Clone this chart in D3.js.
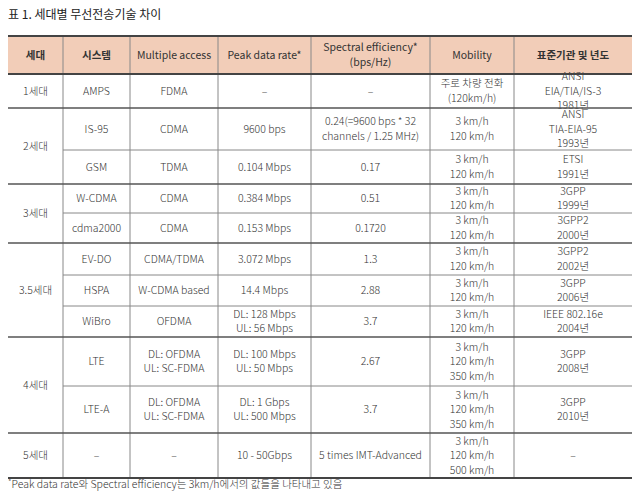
<!DOCTYPE html><html><head><meta charset="utf-8"><script src="https://cdn.jsdelivr.net/npm/d3@7"></script>
<style>body{margin:0;background:#fff}</style></head><body><svg id="c" width="640" height="494"></svg><script>
const colEdges=[8,63,130,218,311,430,514,632];
const headers=[["세대"],["시스템"],["Multiple access"],["Peak data rate*"],["Spectral efficiency*","(bps/Hz)"],["Mobility"],["표준기관 및 년도"]];
const generations=[{name:"1세대",rows:1},{name:"2세대",rows:2},{name:"3세대",rows:2},{name:"3.5세대",rows:3},{name:"4세대",rows:2},{name:"5세대",rows:1}];
const rowEdges=[74,108,150,184,213,243,275,306,337,386,433,478];
const rows=[
[["AMPS"],["FDMA"],["–"],["–"],["주로 차량 전화","(120km/h)"],["ANSI","EIA/TIA/IS-3","1981년"]],
[["IS-95"],["CDMA"],["9600 bps"],["0.24(=9600 bps * 32","channels / 1.25 MHz)"],["3 km/h","120 km/h"],["ANSI","TIA-EIA-95","1993년"]],
[["GSM"],["TDMA"],["0.104 Mbps"],["0.17"],["3 km/h","120 km/h"],["ETSI","1991년"]],
[["W-CDMA"],["CDMA"],["0.384 Mbps"],["0.51"],["3 km/h","120 km/h"],["3GPP","1999년"]],
[["cdma2000"],["CDMA"],["0.153 Mbps"],["0.1720"],["3 km/h","120 km/h"],["3GPP2","2000년"]],
[["EV-DO"],["CDMA/TDMA"],["3.072 Mbps"],["1.3"],["3 km/h","120 km/h"],["3GPP2","2002년"]],
[["HSPA"],["W-CDMA based"],["14.4 Mbps"],["2.88"],["3 km/h","120 km/h"],["3GPP","2006년"]],
[["WiBro"],["OFDMA"],["DL: 128 Mbps","UL: 56 Mbps"],["3.7"],["3 km/h","120 km/h"],["IEEE 802.16e","2004년"]],
[["LTE"],["DL: OFDMA","UL: SC-FDMA"],["DL: 100 Mbps","UL: 50 Mbps"],["2.67"],["3 km/h","120 km/h","350 km/h"],["3GPP","2008년"]],
[["LTE-A"],["DL: OFDMA","UL: SC-FDMA"],["DL: 1 Gbps","UL: 500 Mbps"],["3.7"],["3 km/h","120 km/h","350 km/h"],["3GPP","2010년"]],
[["–"],["–"],["10  -  50Gbps"],["5 times IMT-Advanced"],["3 km/h","120 km/h","500 km/h"],["–"]]];
const svg=d3.select("#c");const F="'Noto Sans CJK KR','Noto Sans',sans-serif";
const x=i=>colEdges[i];
svg.append("text").attr("x",8).attr("y",19).attr("font-family",F).attr("font-size",12).attr("fill","#222").text("표 1. 세대별 무선전송기술 차이");
svg.append("rect").attr("x",8).attr("y",36).attr("width",624).attr("height",38).attr("fill","#f2cdb8");
function cell(lines,cx,top,bot,fw){const lh=14.5,cy=(top+bot)/2,y0=cy-(lines.length-1)*lh/2;
 lines.forEach((t,k)=>svg.append("text").attr("x",cx).attr("y",y0+k*lh).attr("dy","0.35em").attr("text-anchor","middle").attr("font-family",F).attr("font-size",10.5).attr("fill","#333").attr("font-weight",fw||300).text(t));}
headers.forEach((h,i)=>cell(h,(x(i)+x(i+1))/2,36,74,i==0||i==1||i==6?700:400));
let r=0;const genB=[74];
generations.forEach(g=>{cell([g.name],(x(0)+x(1))/2,rowEdges[r],rowEdges[r+g.rows]);r+=g.rows;genB.push(rowEdges[r]);});
rows.forEach((row,j)=>row.forEach((c,i)=>cell(c,(x(i+1)+x(i+2))/2,rowEdges[j],rowEdges[j+1])));
colEdges.slice(1,-1).forEach(v=>svg.append("line").attr("x1",v).attr("x2",v).attr("y1",36).attr("y2",478).attr("stroke","#888").attr("stroke-width",1));
rowEdges.forEach(v=>{if(!genB.includes(v))svg.append("line").attr("x1",x(1)).attr("x2",632).attr("y1",v).attr("y2",v).attr("stroke","#888").attr("stroke-width",1);});
genB.slice(1,-1).forEach(v=>svg.append("line").attr("x1",8).attr("x2",632).attr("y1",v).attr("y2",v).attr("stroke","#555").attr("stroke-width",1.3));
[36,74,478].forEach(v=>svg.append("line").attr("x1",8).attr("x2",632).attr("y1",v).attr("y2",v).attr("stroke","#444").attr("stroke-width",2));
const fn=svg.append("text").attr("x",8).attr("y",488).attr("font-family",F).attr("font-size",10.5).attr("font-weight",300).attr("fill","#333");
fn.append("tspan").attr("font-size",8).attr("dy",-3).text("*");fn.append("tspan").attr("dy",3).text("Peak data rate와 Spectral efficiency는 3km/h에서의 값들을 나타내고 있음");
</script></body></html>
